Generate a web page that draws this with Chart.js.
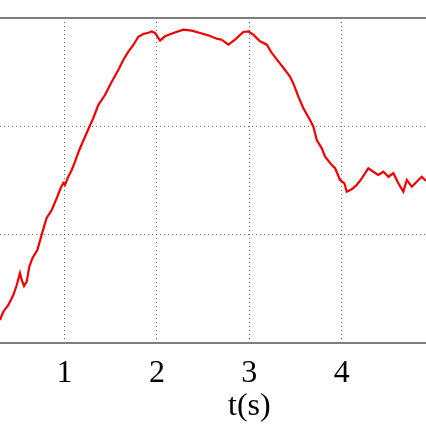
<!DOCTYPE html>
<html>
<head>
<meta charset="utf-8">
<script src="https://cdn.jsdelivr.net/npm/chart.js@4.4.1/dist/chart.umd.min.js"></script>
<style>
  html, body { margin: 0; padding: 0; background: #fff; }
  #wrap { width: 426px; height: 426px; }
</style>
</head>
<body>
<div id="wrap"><canvas id="myChart" width="426" height="426"></canvas></div>
<script>
const timeS = [
  0.302, 0.338, 0.392, 0.446, 0.483, 0.518, 0.537, 0.562, 0.591, 0.619,
  0.645, 0.662, 0.706, 0.778, 0.807, 0.862, 0.916, 0.959, 0.987, 1.005,
  1.041, 1.078, 1.114, 1.160, 1.254, 1.312, 1.366, 1.438, 1.511, 1.582,
  1.636, 1.691, 1.745, 1.799, 1.853, 1.907, 1.944, 1.980, 2.034, 2.088,
  2.178, 2.286, 2.377, 2.467, 2.556, 2.647, 2.701, 2.773, 2.845, 2.935,
  2.989, 3.043, 3.116, 3.189, 3.243, 3.314, 3.387, 3.441, 3.476, 3.531,
  3.585, 3.657, 3.693, 3.730, 3.784, 3.820, 3.892, 3.928, 3.982, 4.029,
  4.054, 4.108, 4.163, 4.217, 4.288, 4.342, 4.396, 4.451, 4.505, 4.559,
  4.613, 4.667, 4.704, 4.758, 4.812, 4.866, 4.902, 4.950
];
const values = [
  0.212, 0.289, 0.351, 0.443, 0.535, 0.646, 0.582, 0.526, 0.566, 0.704,
  0.766, 0.797, 0.858, 1.074, 1.154, 1.228, 1.338, 1.431, 1.477, 1.459,
  1.535, 1.597, 1.674, 1.782, 1.966, 2.077, 2.197, 2.289, 2.412, 2.520,
  2.612, 2.689, 2.751, 2.827, 2.852, 2.864, 2.875, 2.862, 2.792, 2.831,
  2.862, 2.892, 2.883, 2.862, 2.840, 2.809, 2.800, 2.754, 2.800, 2.871,
  2.877, 2.846, 2.785, 2.754, 2.677, 2.600, 2.520, 2.458, 2.397, 2.274,
  2.167, 2.059, 1.997, 1.874, 1.797, 1.720, 1.643, 1.613, 1.505, 1.474,
  1.397, 1.419, 1.459, 1.520, 1.613, 1.581, 1.551, 1.581, 1.535, 1.567,
  1.474, 1.397, 1.505, 1.443, 1.489, 1.535, 1.505, 1.490
];
const xTicks = [1, 2, 3, 4];
const xLabel = 't(s)';

const serif = '"Liberation Serif", "Times New Roman", serif';
const gridColor = 'rgba(0,0,0,0.55)';

// x label sits at the middle of the original (uncropped) 0..6 axis
const xLabelPlugin = {
  id: 'xLabel',
  afterDraw(chart) {
    const ctx = chart.ctx;
    const x = chart.scales.x.getPixelForValue(3);
    ctx.save();
    ctx.font = '32px ' + serif;
    ctx.fillStyle = '#000';
    ctx.textAlign = 'center';
    ctx.textBaseline = 'alphabetic';
    ctx.fillText(xLabel, x, 415);
    ctx.restore();
  }
};

const ctx = document.getElementById('myChart').getContext('2d');
new Chart(ctx, {
  type: 'line',
  data: {
    datasets: [{
      data: timeS.map((t, i) => ({ x: t, y: values[i] })),
      borderColor: '#f00000',
      borderWidth: 2.2,
      pointRadius: 0,
      tension: 0,
      fill: false
    }]
  },
  options: {
    responsive: false,
    animation: false,
    layout: { padding: 0 },
    plugins: { legend: { display: false }, tooltip: { enabled: false } },
    scales: {
      x: {
        type: 'linear',
        position: 'bottom',
        min: 0.302,
        max: 4.912,
        afterFit: s => { s.height = 83; },
        afterBuildTicks: s => { s.ticks = xTicks.map(v => ({ value: v })); },
        ticks: {
          includeBounds: false,
          padding: 11,
          color: '#000',
          font: { family: serif, size: 32 },
          maxRotation: 0
        },
        grid: { drawTicks: false, color: gridColor, lineWidth: 1 },
        border: { display: true, color: '#7f7f7f', width: 2, dash: [1, 3] }
      },
      xTop: {
        type: 'linear',
        position: 'top',
        min: 0.302,
        max: 4.912,
        afterFit: s => { s.height = 18; },
        ticks: { display: false },
        grid: { display: false, drawTicks: false },
        border: { display: true, color: '#7f7f7f', width: 2 }
      },
      y: {
        min: 0,
        max: 3,
        afterFit: s => { s.width = 0; },
        ticks: { display: false, stepSize: 1 },
        grid: {
          drawTicks: false,
          color: c => (c.tick && (c.tick.value === 0 || c.tick.value === 3)) ? 'rgba(0,0,0,0)' : gridColor,
          lineWidth: 1
        },
        border: { display: false, dash: [1, 3] }
      }
    }
  },
  plugins: [xLabelPlugin]
});
</script>
</body>
</html>
